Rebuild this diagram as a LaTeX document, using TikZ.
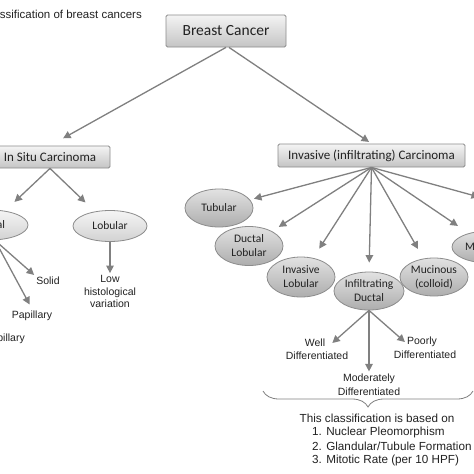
\documentclass[tikz,border=0pt]{standalone}
\usepackage{fontspec}
\setmainfont{Liberation Sans}
\newfontfamily\calfont{Carlito}
\usetikzlibrary{arrows.meta,shapes.geometric,decorations.pathreplacing}
\definecolor{txt}{HTML}{222222}
\definecolor{arr}{HTML}{808080}
\definecolor{bord}{HTML}{8C8C8C}
\definecolor{boxtop}{HTML}{F4F4F4}
\definecolor{boxbot}{HTML}{C4C4C4}
\definecolor{elltop}{HTML}{E2E2E2}
\definecolor{ellbot}{HTML}{ADADAD}
\definecolor{iellltop}{HTML}{F5F5F5}
\definecolor{iellbot}{HTML}{D2D2D2}
\tikzset{
  boxnode/.style={draw=bord, line width=0.8pt, rounded corners=1.5pt, top color=boxtop, bottom color=boxbot,
    font=\calfont\fontsize{13}{15}\selectfont, text=txt, inner sep=0pt},
  ellnode/.style={ellipse, draw=bord, line width=0.8pt, top color=elltop, bottom color=ellbot,
    font=\calfont\fontsize{11.5}{14}\selectfont, text=txt, align=center, inner sep=0pt},
  insitu/.style={ellnode, top color=iellltop, bottom color=iellbot},
  lbl/.style={font=\fontsize{10.5}{12.5}\selectfont, text=txt, align=center, inner sep=2pt},
  basis/.style={font=\fontsize{11.7}{14}\selectfont, text=txt, inner sep=1pt},
  conn/.style={draw=arr, line width=1.3pt, -{Triangle[length=7.5pt,width=7.5pt]}},
  bracestyle/.style={draw=arr, line width=0.8pt, decorate, decoration={brace, amplitude=16pt}}
}
\begin{document}
\begin{tikzpicture}[x=1pt,y=-1pt]
\useasboundingbox (0,0) rectangle (474,474);
\clip (0,0) rectangle (474,474);
\fill[white] (0,0) rectangle (474,474);

% title
\node[basis, anchor=east, font=\fontsize{11.5}{14}\selectfont] (title) at (143,14) {Classification of breast cancers};

% main boxes
\node[boxnode, minimum width=120pt, minimum height=32pt, font=\calfont\fontsize{15.5}{18}\selectfont] (bc) at (226,31) {Breast Cancer};
\node[boxnode, minimum width=120pt, minimum height=22pt] (isc) at (50,157) {In Situ Carcinoma};
\node[boxnode, minimum width=187pt, minimum height=23pt] (inv) at (371.5,155.5) {Invasive (infiltrating) Carcinoma};

% in situ branch
\node[insitu, minimum width=76pt, minimum height=30pt] (ductal) at (-10,225) {Ductal};
\node[insitu, minimum width=74pt, minimum height=31pt] (lobular) at (110,226) {Lobular};
\node[lbl] (low) at (110,291.5) {Low\\histological\\variation};
\node[lbl] (solid) at (48,281) {Solid};
\node[lbl] (papillary) at (32,316) {Papillary};
\node[lbl, anchor=east] (micropap) at (27,339) {Micropapillary};

% invasive branch
\node[ellnode, minimum width=68pt, minimum height=38pt] (tubular) at (219,208) {Tubular};
\node[ellnode, minimum width=68pt, minimum height=39pt] (ductlob) at (249,246) {Ductal\\Lobular};
\node[ellnode, minimum width=68pt, minimum height=40pt] (invlob) at (301,277) {Invasive\\Lobular};
\node[ellnode, minimum width=70pt, minimum height=38pt] (infduct) at (369,291) {Infiltrating\\Ductal};
\node[ellnode, minimum width=68pt, minimum height=38pt] (mucinous) at (434,277) {Mucinous\\(colloid)};
\node[ellnode, minimum width=74pt, minimum height=32pt] (medullary) at (489,247) {Medullary};
\coordinate (offr) at (479,197);

% grades
\node[lbl] (well) at (315,343) {Well};
\node[lbl] (welld) at (317,356) {Differentiated};
\node[lbl] (poorly) at (422,342) {Poorly};
\node[lbl] (poorlyd) at (425,354.5) {Differentiated};
\node[lbl] (moder) at (369,378.5) {Moderately};
\node[lbl] (moderd) at (369,391.5) {Differentiated};

% brace and basis
\coordinate (bl) at (263,391);
\coordinate (br) at (473,391);
\node[basis] (basis) at (377,418) {This classification is based on};
\node[basis, anchor=west] (l1) at (311,432) {1. Nuclear Pleomorphism};
\node[basis, anchor=west] (l2) at (311,446) {2. Glandular/Tubule Formation};
\node[basis, anchor=west] (l3) at (311,460) {3. Mitotic Rate (per 10 HPF)};

% connectors
\draw[conn, shorten >=15pt] (bc.south) -- (isc.north);
\draw[conn, shorten >=3pt] ([xshift=3pt]bc.south) -- (inv.north);
\draw[conn, shorten >=13pt] (isc.south) -- (ductal);
\draw[conn, shorten >=13pt] (isc.south) -- (lobular);
\draw[conn] (lobular) -- (low);
\draw[conn] ([xshift=5pt]ductal.south) -- (solid.north west);
\draw[conn, shorten >=5pt] ([xshift=5pt]ductal.south) -- (papillary.north);

\draw[conn, shorten >=4pt] (inv.south) -- (tubular);
\draw[conn, shorten >=8pt] (inv.south) -- (ductlob);
\draw[conn, shorten >=11pt] (inv.south) -- (invlob);
\draw[conn, shorten >=9pt] (inv.south) -- (infduct.north);
\draw[conn, shorten >=11pt] (inv.south) -- (mucinous);
\draw[conn, shorten >=13pt] (inv.south) -- (medullary);
\draw[conn] (inv.south) -- (offr);

\draw[conn] (infduct.south) -- ([xshift=5pt]well.east);
\draw[conn] (infduct.south) -- (poorly.west);
\draw[conn] (infduct.south) -- (moder.north);

\draw[bracestyle] (br) -- (bl);
\end{tikzpicture}
\end{document}
